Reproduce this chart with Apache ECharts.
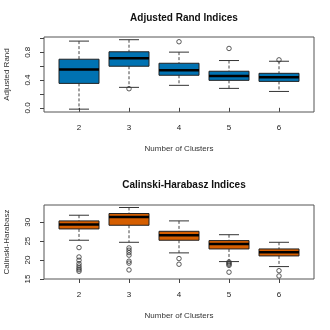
<!DOCTYPE html>
<html>
<head>
<meta charset="utf-8">
<script src="https://cdn.jsdelivr.net/npm/echarts@6/dist/echarts.min.js"></script>
<style>
  html, body { margin: 0; padding: 0; background: #fff; }
  #chart { width: 330px; height: 330px; }
</style>
</head>
<body>
<div id="chart"></div>
<script>
// Cluster counts on the x axis
const clusters = [2, 3, 4, 5, 6];

// Adjusted Rand index: whisker ends, quartiles and medians
const randLower  = [-0.019, 0.295, 0.324, 0.280, 0.236];
const randQ1     = [0.352, 0.599, 0.469, 0.396, 0.381];
const randMedian = [0.551, 0.715, 0.541, 0.459, 0.439];
const randQ3     = [0.700, 0.807, 0.642, 0.527, 0.497];
const randUpper  = [0.961, 0.981, 0.802, 0.681, 0.671];
const randOutliers = [[], [0.275], [0.952], [0.855], [0.691]];

// Calinski-Harabasz index: whisker ends, quartiles and medians
const chLower  = [25.24, 24.7, 21.9, 19.6, 18.28];
const chQ1     = [28.23, 29.2, 25.24, 22.94, 21.1];
const chMedian = [29.39, 31.4, 26.56, 24.26, 22.06];
const chQ3     = [30.35, 32.3, 27.6, 25.15, 22.94];
const chUpper  = [31.85, 33.89, 30.35, 26.7, 24.7];
const chOutliers = [
  [23.3, 20.82, 19.95, 19.07, 18.44, 17.9, 17.47, 17.04],
  [23.2, 22.6, 21.98, 21.3, 19.7, 19.2, 17.4],
  [20.4, 18.9],
  [19.5, 19.2, 18.9, 18.6, 16.8],
  [17.2, 15.8]
];

// Axis tick positions and labelled values
const randTicks = [0, 0.2, 0.4, 0.6, 0.8, 1.0];
const randLabels = [0, 0.4, 0.8];
const chTicks = [15, 20, 25, 30];

const FONT = '"Liberation Sans", Arial, sans-serif';

function boxRows(lo, q1, med, q3, hi) {
  return clusters.map((c, i) => [c, lo[i], q1[i], med[i], q3[i], hi[i]]);
}
function outlierPoints(groups) {
  const pts = [];
  groups.forEach((g, i) => g.forEach(v => pts.push([clusters[i], v])));
  return pts;
}

// Box with dashed whiskers, solid staples and a heavy median bar
function makeRenderItem(fill) {
  return function (params, api) {
    const x = api.value(0), lo = api.value(1), q1 = api.value(2),
          med = api.value(3), q3 = api.value(4), hi = api.value(5);
    const bw = 0.4, sw = 0.2;
    const c = (a, b) => api.coord([a, b]);
    const whisk = { stroke: '#444', lineWidth: 1, lineDash: [3, 2] };
    const solid = { stroke: '#333', lineWidth: 1 };
    const tl = c(x - bw, q3), br = c(x + bw, q1);
    return {
      type: 'group',
      children: [
        { type: 'line', shape: { x1: c(x, hi)[0], y1: c(x, hi)[1], x2: c(x, q3)[0], y2: c(x, q3)[1] }, style: whisk },
        { type: 'line', shape: { x1: c(x, q1)[0], y1: c(x, q1)[1], x2: c(x, lo)[0], y2: c(x, lo)[1] }, style: whisk },
        { type: 'line', shape: { x1: c(x - sw, hi)[0], y1: c(x - sw, hi)[1], x2: c(x + sw, hi)[0], y2: c(x + sw, hi)[1] }, style: solid },
        { type: 'line', shape: { x1: c(x - sw, lo)[0], y1: c(x - sw, lo)[1], x2: c(x + sw, lo)[0], y2: c(x + sw, lo)[1] }, style: solid },
        { type: 'rect', shape: { x: tl[0], y: tl[1], width: br[0] - tl[0], height: br[1] - tl[1] },
          style: { fill: fill, stroke: '#222', lineWidth: 1 } },
        { type: 'line', shape: { x1: c(x - bw, med)[0], y1: c(x - bw, med)[1], x2: c(x + bw, med)[0], y2: c(x + bw, med)[1] },
          style: { stroke: '#000', lineWidth: 2.5 } }
      ]
    };
  };
}

function xAxisFor(gridIndex) {
  return {
    type: 'value', gridIndex: gridIndex, min: 1.3, max: 6.7,
    name: 'Number of Clusters', nameLocation: 'middle', nameGap: 33,
    nameTextStyle: { fontFamily: FONT, fontSize: 8, color: '#333' },
    axisLine: { show: false },
    splitLine: { show: false },
    axisTick: { show: true, length: 4, lineStyle: { color: '#444' }, customValues: clusters },
    axisLabel: { fontFamily: FONT, fontSize: 8, color: '#222', margin: 12, customValues: clusters }
  };
}

const tickStyle = { show: true, length: 4, lineStyle: { color: '#444' } };

const option = {
  backgroundColor: '#fff',
  animation: false,
  title: [
    { text: 'Adjusted Rand Indices', left: 179, top: 8, textAlign: 'center',
      textStyle: { fontFamily: FONT, fontSize: 10, fontWeight: 'bold', color: '#111' } },
    { text: 'Calinski-Harabasz Indices', left: 179, top: 175, textAlign: 'center',
      textStyle: { fontFamily: FONT, fontSize: 10, fontWeight: 'bold', color: '#111' } }
  ],
  grid: [
    { left: 44, right: 16, top: 37, height: 75, outerBoundsMode: 'none', containLabel: false,
      show: true, borderColor: '#555', borderWidth: 1, backgroundColor: 'transparent' },
    { left: 44, right: 16, top: 205, height: 74, outerBoundsMode: 'none', containLabel: false,
      show: true, borderColor: '#555', borderWidth: 1, backgroundColor: 'transparent' }
  ],
  xAxis: [xAxisFor(0), xAxisFor(1)],
  yAxis: [
    {
      type: 'value', gridIndex: 0, min: -0.06, max: 1.02,
      name: 'Adjusted Rand', nameLocation: 'middle', nameGap: 33,
      nameTextStyle: { fontFamily: FONT, fontSize: 8, color: '#333' },
      axisLine: { show: false }, splitLine: { show: false },
      axisTick: Object.assign({ customValues: randTicks }, tickStyle),
      axisLabel: { fontFamily: FONT, fontSize: 8, color: '#222', rotate: 90, margin: 12,
        customValues: randLabels, formatter: v => Number(v).toFixed(1) }
    },
    {
      type: 'value', gridIndex: 1, min: 15.0, max: 34.55,
      name: 'Calinski-Harabasz', nameLocation: 'middle', nameGap: 33,
      nameTextStyle: { fontFamily: FONT, fontSize: 8, color: '#333' },
      axisLine: { show: false }, splitLine: { show: false },
      axisTick: Object.assign({ customValues: chTicks }, tickStyle),
      axisLabel: { fontFamily: FONT, fontSize: 8, color: '#222', rotate: 90, margin: 12,
        customValues: chTicks, formatter: v => String(Math.round(v)) }
    }
  ],
  series: [
    {
      type: 'custom', xAxisIndex: 0, yAxisIndex: 0,
      renderItem: makeRenderItem('#0072B2'),
      encode: { x: 0, y: [1, 2, 3, 4, 5] },
      data: boxRows(randLower, randQ1, randMedian, randQ3, randUpper)
    },
    {
      type: 'scatter', xAxisIndex: 0, yAxisIndex: 0, symbol: 'circle', symbolSize: 4.5,
      itemStyle: { color: 'rgba(0,0,0,0)', borderColor: '#333', borderWidth: 1 },
      data: outlierPoints(randOutliers)
    },
    {
      type: 'custom', xAxisIndex: 1, yAxisIndex: 1,
      renderItem: makeRenderItem('#D55E00'),
      encode: { x: 0, y: [1, 2, 3, 4, 5] },
      data: boxRows(chLower, chQ1, chMedian, chQ3, chUpper)
    },
    {
      type: 'scatter', xAxisIndex: 1, yAxisIndex: 1, symbol: 'circle', symbolSize: 4.5,
      itemStyle: { color: 'rgba(0,0,0,0)', borderColor: '#333', borderWidth: 1 },
      data: outlierPoints(chOutliers)
    }
  ]
};

const chart = echarts.init(document.getElementById('chart'), null, { renderer: 'canvas' });
chart.setOption(option);
</script>
</body>
</html>
